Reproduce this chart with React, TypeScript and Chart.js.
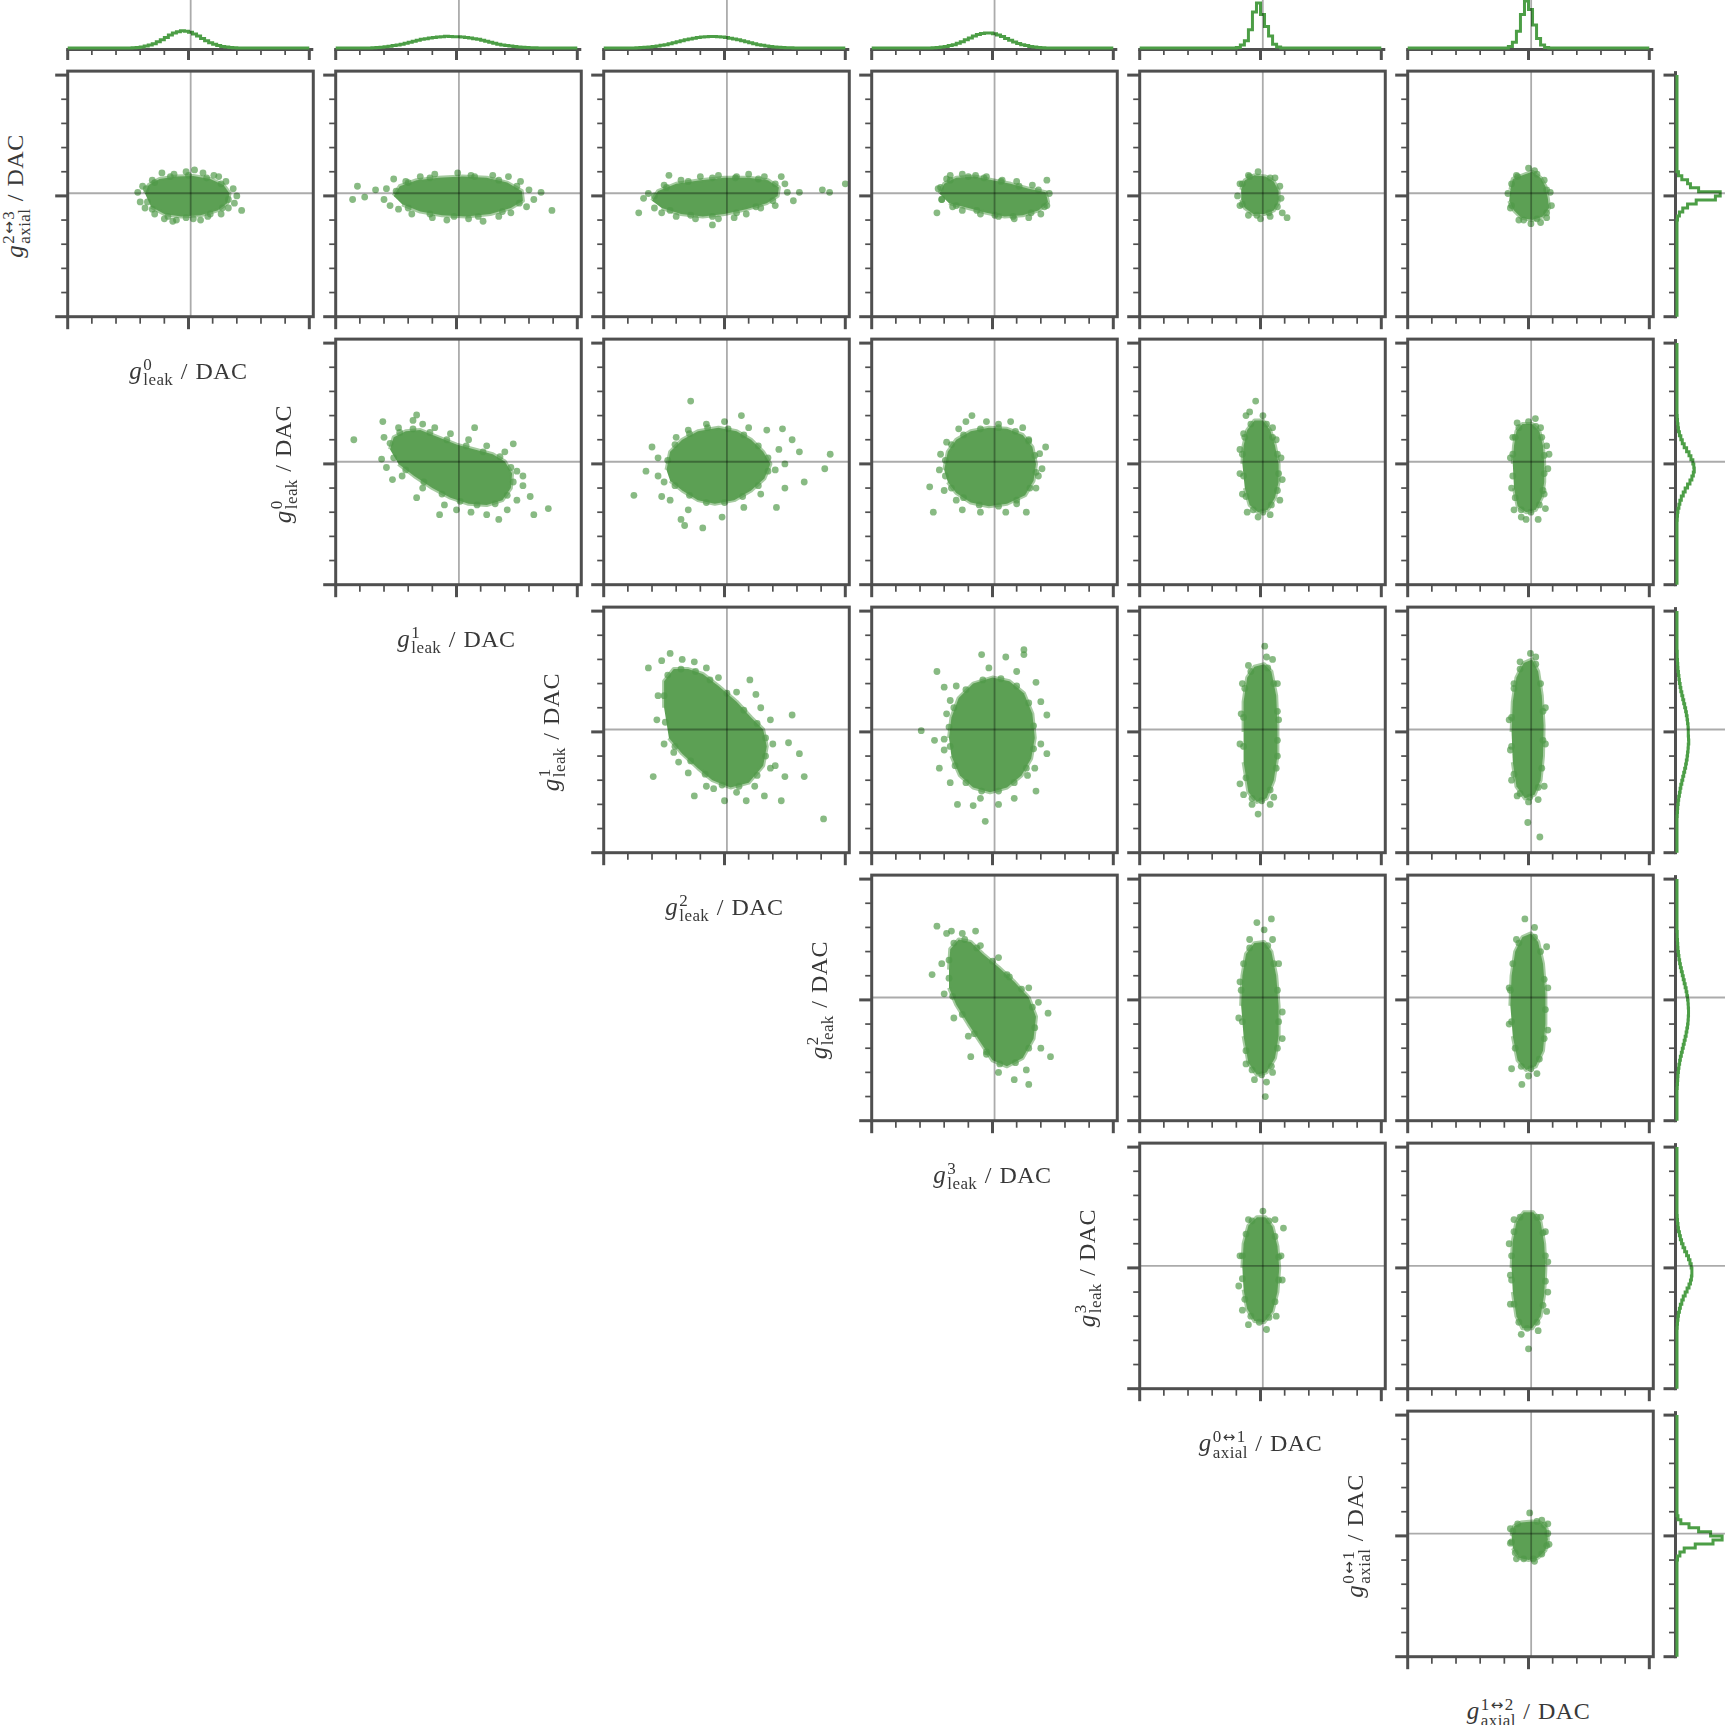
import React, { useEffect, useMemo, useRef } from 'react';
import { Chart, registerables } from 'chart.js';

Chart.register(...registerables);

// ---------------- values ----------------
// parameter order: g0 leak, g1 leak, g2 leak, g3 leak, g0↔1 axial, g1↔2 axial, g2↔3 axial
const PARAM_SUP = ['0', '1', '2', '3', '0↔1', '1↔2', '2↔3'];
const PARAM_SUB = ['leak', 'leak', 'leak', 'leak', 'axial', 'axial', 'axial'];
const TRUTH = [0.018, 0.02, 0.02, 0.017, 0.019, 0.022, 0.022];
const COLUMN_PARAM = [0, 1, 2, 3, 4, 5];
const ROW_PARAM = [6, 0, 1, 2, 3, 4];

const AXIS_MIN = -1;
const AXIS_MAX = 1.033;
const TICK_MAJOR = [-1, 0, 1];
const TICK_MINOR = [-0.8, -0.6, -0.4, -0.2, 0.2, 0.4, 0.6, 0.8];
const HIST_MIN = -1;
const HIST_MAX = 1;

// marginal histograms (60 bins from -1 to 1), heights in % of the strip
const HIST_G0LEAK = [
  0, 0, 0, 0, 0, 0, 0, 0, 0, 0,
  0, 0, 0, 0, 0, 0, 0.5, 1, 2, 4,
  6, 9, 13, 17, 22, 27, 31, 34, 36, 35,
  33, 29, 25, 20, 15, 11, 8, 5, 3, 2,
  1, 0.5, 0, 0, 0, 0, 0, 0, 0, 0,
  0, 0, 0, 0, 0, 0, 0, 0, 0, 0,
];
const HIST_G1LEAK = [
  0, 0, 0, 0, 0, 0, 0, 0, 0, 0.5,
  1, 1.5, 2.5, 3.5, 5, 6.5, 8, 10, 12, 14,
  16, 18, 19.5, 21, 22, 23, 23.5, 24.5, 24, 23.5,
  23.5, 23, 22, 21, 19.5, 18, 16, 14, 12, 10,
  8, 6.5, 5, 4, 3, 2, 1.5, 1, 0.5, 0.5,
  0, 0, 0, 0, 0, 0, 0, 0, 0, 0,
];
const HIST_G2LEAK = [
  0, 0, 0, 0, 0, 0, 0, 0, 0.5, 1,
  1.5, 2, 3, 4, 5.5, 7, 9, 11, 13, 15,
  17, 19, 20.5, 22, 23, 23.5, 24, 24, 23.5, 23,
  22, 20.5, 19, 17, 15, 13, 11, 9, 7, 5.5,
  4, 3, 2, 1.5, 1, 0.5, 0.5, 0, 0, 0,
  0, 0, 0, 0, 0, 0, 0, 0, 0, 0,
];
const HIST_G3LEAK = [
  0, 0, 0, 0, 0, 0, 0, 0, 0, 0,
  0, 0, 0, 0, 0, 0.5, 1, 2, 3, 5,
  7, 10, 13, 17, 21, 25, 28, 30, 31, 31,
  29.5, 27, 24, 20, 16, 12.5, 9.5, 7, 5, 3,
  2, 1, 0.5, 0, 0, 0, 0, 0, 0, 0,
  0, 0, 0, 0, 0, 0, 0, 0, 0, 0,
];
const HIST_G01AXIAL = [
  0, 0, 0, 0, 0, 0, 0, 0, 0, 0,
  0, 0, 0, 0, 0, 0, 0, 0, 0, 0,
  0, 0, 0, 0, 1, 6, 15, 38, 75, 94,
  70, 45, 25, 8, 2, 0, 0, 0, 0, 0,
  0, 0, 0, 0, 0, 0, 0, 0, 0, 0,
  0, 0, 0, 0, 0, 0, 0, 0, 0, 0,
];
const HIST_G12AXIAL = [
  0, 0, 0, 0, 0, 0, 0, 0, 0, 0,
  0, 0, 0, 0, 0, 0, 0, 0, 0, 0,
  0, 0, 0, 0, 0, 3, 12, 35, 70, 98,
  80, 48, 20, 6, 1, 0, 0, 0, 0, 0,
  0, 0, 0, 0, 0, 0, 0, 0, 0, 0,
  0, 0, 0, 0, 0, 0, 0, 0, 0, 0,
];
const HIST_G23AXIAL = [
  0, 0, 0, 0, 0, 0, 0, 0, 0, 0,
  0, 0, 0, 0, 0, 0, 0, 0, 0, 0,
  0, 0, 0, 0, 1, 5, 12, 22, 40, 80,
  90, 45, 28, 22, 10, 3, 0, 0, 0, 0,
  0, 0, 0, 0, 0, 0, 0, 0, 0, 0,
  0, 0, 0, 0, 0, 0, 0, 0, 0, 0,
];
const HISTS = [HIST_G0LEAK, HIST_G1LEAK, HIST_G2LEAK, HIST_G3LEAK, HIST_G01AXIAL, HIST_G12AXIAL, HIST_G23AXIAL];

// dense sample cores (outline) and sparse samples, [x, y] in DAC units relative to the axes
const CORE_R0C0 = [[-0.36,0.02],[-0.33,0.09],[-0.24,0.14],[-0.1,0.16],[0.04,0.165],[0.18,0.14],[0.29,0.09],[0.34,0.02],[0.32,-0.06],[0.24,-0.12],[0.1,-0.16],[-0.06,-0.17],[-0.2,-0.15],[-0.31,-0.09]];
const PTS_R0C0 = [[-0.42,0.03],[-0.4,-0.05],[-0.38,0.08],[-0.3,0.13],[-0.22,0.19],[-0.12,0.18],[-0.02,0.2],[0.05,0.215],[0.12,0.19],[0.21,0.17],[0.25,0.16],[0.31,0.12],[0.37,0.06],[0.4,0.0],[0.38,-0.06],[0.44,-0.12],[0.33,-0.1],[0.27,-0.15],[0.16,-0.17],[0.04,-0.19],[-0.1,-0.2],[-0.2,-0.19],[-0.28,-0.15],[-0.36,-0.1],[-0.13,-0.21],[0.1,-0.2],
  [-0.34,-0.05],[-0.35,0.06],[-0.28,0.11],[-0.15,0.16],[0.0,0.17],[0.15,0.15],[0.27,0.1],[0.33,-0.03],[0.28,-0.1],[0.18,-0.15],[-0.02,-0.18],[-0.17,-0.17],[-0.3,-0.11]];

const CORE_R0C1 = [[-0.52,0.0],[-0.47,0.08],[-0.33,0.13],[-0.15,0.15],[0.05,0.16],[0.25,0.15],[0.42,0.11],[0.54,0.04],[0.55,-0.04],[0.45,-0.1],[0.28,-0.15],[0.08,-0.17],[-0.12,-0.16],[-0.3,-0.13],[-0.45,-0.07]];
const PTS_R0C1 = [[-0.86,-0.03],[-0.82,0.08],[-0.76,-0.01],[-0.67,0.05],[-0.6,-0.03],[-0.58,0.06],[-0.55,-0.08],[-0.52,0.14],[-0.42,0.12],[-0.3,0.16],[-0.18,0.18],[0.01,0.19],[0.12,0.17],[0.3,0.17],[0.43,0.16],[0.53,0.12],[0.6,0.05],[0.64,-0.03],[0.7,0.03],[0.79,-0.12],[0.58,-0.09],[0.45,-0.14],[0.35,-0.17],[0.22,-0.21],[0.1,-0.19],[-0.08,-0.2],[-0.2,-0.18],[-0.37,-0.15],[-0.48,-0.11],
  [-0.5,0.04],[-0.4,0.11],[-0.22,0.15],[0.15,0.16],[0.35,0.13],[0.5,0.08],[0.52,-0.06],[0.38,-0.13],[0.18,-0.17],[-0.02,-0.17],[-0.22,-0.15],[-0.4,-0.1]];

const CORE_R0C2 = [[-0.6,-0.04],[-0.55,0.04],[-0.4,0.1],[-0.2,0.13],[0.0,0.15],[0.2,0.15],[0.36,0.13],[0.45,0.07],[0.44,0.0],[0.35,-0.06],[0.18,-0.11],[0.0,-0.15],[-0.18,-0.17],[-0.36,-0.15],[-0.52,-0.1]];
const PTS_R0C2 = [[-0.71,-0.14],[-0.67,-0.02],[-0.63,0.02],[-0.58,-0.1],[-0.46,0.17],[-0.5,0.09],[-0.36,0.13],[-0.2,0.16],[-0.05,0.17],[0.09,0.15],[0.2,0.18],[0.33,0.16],[0.47,0.16],[0.5,0.1],[0.52,0.03],[0.57,-0.04],[0.62,0.03],[0.81,0.05],[0.87,0.03],[1.0,0.1],[0.42,-0.08],[0.3,-0.1],[0.18,-0.15],[0.08,-0.18],[-0.1,-0.24],[-0.05,-0.19],[-0.24,-0.19],[-0.4,-0.17],[-0.52,-0.14],
  [-0.58,0.0],[-0.48,0.07],[-0.3,0.12],[-0.1,0.15],[0.1,0.16],[0.28,0.14],[0.42,0.1],[0.4,-0.04],[0.26,-0.09],[0.1,-0.14],[-0.1,-0.17],[-0.28,-0.16],[-0.45,-0.12]];

const CORE_R0C3 = [[-0.44,0.02],[-0.4,0.1],[-0.3,0.15],[-0.15,0.16],[0.0,0.13],[0.15,0.1],[0.3,0.06],[0.44,0.03],[0.46,-0.05],[0.38,-0.12],[0.25,-0.16],[0.1,-0.17],[-0.05,-0.14],[-0.2,-0.1],[-0.36,-0.06]];
const PTS_R0C3 = [[-0.46,-0.14],[-0.45,0.06],[-0.42,-0.03],[-0.38,0.14],[-0.35,0.17],[-0.25,0.18],[-0.14,0.17],[-0.05,0.16],[0.08,0.13],[0.2,0.12],[0.33,0.09],[0.45,0.13],[0.47,0.02],[0.45,-0.08],[0.4,-0.15],[0.3,-0.18],[0.18,-0.19],[0.05,-0.17],[-0.1,-0.15],[-0.25,-0.12],[-0.33,-0.09],
  [-0.43,0.07],[-0.35,0.13],[-0.2,0.16],[-0.07,0.15],[0.07,0.12],[0.22,0.08],[0.38,0.05],[0.43,-0.09],[0.32,-0.14],[0.17,-0.17],[0.02,-0.16],[-0.13,-0.12],[-0.3,-0.08],[-0.42,-0.03]];

const CORE_R0C4 = [[-0.16,0.05],[-0.13,0.13],[-0.05,0.17],[0.04,0.16],[0.11,0.12],[0.15,0.04],[0.15,-0.05],[0.11,-0.12],[0.03,-0.15],[-0.06,-0.15],[-0.13,-0.1],[-0.16,-0.03]];
const PTS_R0C4 = [[0.22,-0.18],[0.18,-0.14],[0.16,0.08],[0.12,0.15],[-0.02,0.2],[-0.1,0.17],[-0.17,0.1],[-0.19,0.0],[-0.17,-0.08],[-0.1,-0.16],[0.0,-0.19],[0.08,-0.17],[0.17,-0.02],
  [-0.15,0.1],[-0.09,0.16],[0.08,0.15],[0.14,-0.09],[0.07,-0.14],[-0.03,-0.16],[-0.15,-0.07]];

const CORE_R0C5 = [[-0.15,0.05],[-0.13,0.14],[-0.05,0.17],[0.03,0.2],[0.1,0.15],[0.14,0.08],[0.16,-0.02],[0.17,-0.1],[0.12,-0.17],[0.03,-0.2],[-0.06,-0.18],[-0.12,-0.12],[-0.16,-0.04]];
const PTS_R0C5 = [[0.0,0.23],[0.05,0.21],[-0.1,0.17],[-0.17,0.02],[-0.15,-0.1],[-0.08,-0.2],[0.02,-0.23],[0.1,-0.22],[0.15,-0.18],[0.19,-0.08],[0.18,0.03],[0.13,0.13],
  [-0.14,0.1],[-0.09,0.16],[0.07,0.18],[0.15,0.05],[0.15,-0.14],[0.07,-0.19],[-0.04,-0.2],[-0.14,-0.08]];

const CORE_R1C1 = [[-0.55,0.12],[-0.52,0.22],[-0.42,0.27],[-0.3,0.28],[-0.15,0.22],[0.0,0.16],[0.15,0.12],[0.3,0.08],[0.4,0.02],[0.46,-0.08],[0.45,-0.2],[0.38,-0.3],[0.25,-0.34],[0.1,-0.33],[-0.05,-0.28],[-0.2,-0.2],[-0.35,-0.1],[-0.48,0.0]];
const PTS_R1C1 = [[-0.85,0.2],[-0.61,0.35],[-0.33,0.405],[-0.36,0.36],[-0.28,0.33],[-0.48,0.3],[-0.6,0.22],[-0.62,0.04],[-0.58,-0.03],[-0.53,-0.13],[-0.45,-0.1],[-0.33,-0.28],[-0.28,-0.2],[-0.14,-0.42],[-0.1,-0.34],[0.0,-0.38],[0.12,-0.4],[0.25,-0.42],[0.35,-0.46],[0.42,-0.38],[0.5,-0.3],[0.61,-0.27],[0.64,-0.42],[0.76,-0.37],[0.55,-0.18],[0.5,-0.06],[0.47,0.166],[0.4,0.1],[0.15,0.3],[0.1,0.2],[-0.05,0.25],[-0.18,0.3],[0.25,0.15],[0.55,-0.1],
  [-0.55,0.17],[-0.47,0.26],[-0.36,0.29],[-0.22,0.26],[-0.08,0.2],[0.08,0.15],[0.22,0.1],[0.36,0.06],[0.45,-0.03],[0.47,-0.15],[0.42,-0.26],[0.32,-0.33],[0.17,-0.34],[0.03,-0.31],[-0.12,-0.25],[-0.27,-0.15],[-0.42,-0.05],[-0.52,0.05]];

const CORE_R1C2 = [[-0.48,-0.05],[-0.45,0.1],[-0.35,0.2],[-0.22,0.27],[-0.05,0.3],[0.1,0.27],[0.22,0.2],[0.32,0.1],[0.38,0.0],[0.33,-0.12],[0.22,-0.22],[0.08,-0.3],[-0.08,-0.33],[-0.22,-0.3],[-0.35,-0.22],[-0.45,-0.14]];
const PTS_R1C2 = [[-0.28,0.52],[0.14,0.4],[0.0,0.35],[-0.75,-0.26],[-0.65,-0.06],[-0.6,0.14],[-0.55,0.05],[-0.52,-0.27],[-0.5,-0.15],[-0.4,0.22],[-0.3,0.28],[-0.15,0.33],[0.2,0.3],[0.35,0.28],[0.48,0.29],[0.56,0.2],[0.62,0.1],[0.45,0.12],[0.5,0.0],[0.42,-0.05],[0.875,0.08],[0.83,-0.04],[0.66,-0.15],[0.5,-0.2],[0.43,-0.36],[0.3,-0.25],[0.16,-0.36],[-0.02,-0.44],[-0.18,-0.53],[-0.33,-0.51],[-0.36,-0.46],[-0.3,-0.38],[-0.45,-0.3],[-0.55,-0.1],
  [-0.47,0.03],[-0.41,0.16],[-0.29,0.25],[-0.14,0.3],[0.03,0.29],[0.16,0.24],[0.28,0.15],[0.36,0.05],[0.36,-0.06],[0.28,-0.18],[0.15,-0.27],[0.0,-0.32],[-0.15,-0.32],[-0.29,-0.26],[-0.41,-0.18]];

const CORE_R1C3 = [[-0.4,-0.05],[-0.37,0.1],[-0.3,0.2],[-0.18,0.27],[-0.03,0.3],[0.12,0.29],[0.25,0.24],[0.33,0.14],[0.36,0.0],[0.34,-0.14],[0.27,-0.26],[0.12,-0.33],[-0.03,-0.35],[-0.18,-0.32],[-0.3,-0.24],[-0.37,-0.15]];
const PTS_R1C3 = [[-0.17,0.4],[-0.22,0.35],[-0.28,0.29],[0.15,0.35],[-0.05,0.35],[0.05,0.33],[0.25,0.3],[0.3,0.2],[0.44,0.14],[0.39,0.085],[0.41,-0.04],[0.38,-0.1],[0.36,-0.2],[0.28,-0.4],[0.2,-0.33],[0.11,-0.4],[-0.1,-0.4],[-0.25,-0.38],[-0.49,-0.4],[-0.3,-0.3],[-0.4,-0.22],[-0.52,-0.19],[-0.44,-0.05],[-0.43,0.08],[-0.38,0.18],
  [-0.39,0.03],[-0.34,0.16],[-0.24,0.24],[-0.1,0.29],[0.05,0.3],[0.19,0.27],[0.3,0.19],[0.35,0.07],[0.36,-0.07],[0.31,-0.2],[0.2,-0.3],[0.05,-0.35],[-0.11,-0.34],[-0.24,-0.28],[-0.34,-0.2],[-0.39,-0.1]];

const CORE_R1C4 = [[-0.15,0.0],[-0.14,0.15],[-0.11,0.28],[-0.05,0.36],[0.02,0.36],[0.08,0.28],[0.12,0.15],[0.15,0.0],[0.15,-0.15],[0.12,-0.28],[0.06,-0.38],[-0.02,-0.4],[-0.09,-0.34],[-0.13,-0.2]];
const PTS_R1C4 = [[-0.04,0.52],[-0.12,0.4],[-0.09,0.43],[0.02,0.4],[0.1,0.3],[0.13,0.2],[0.17,0.05],[0.18,-0.13],[0.16,-0.3],[0.08,-0.42],[-0.02,-0.44],[-0.11,-0.4],[-0.15,-0.25],[-0.17,-0.08],[-0.17,0.12],[-0.14,0.25],
  [-0.15,0.08],[-0.13,0.22],[-0.08,0.33],[0.05,0.33],[0.1,0.22],[0.14,0.08],[0.15,-0.08],[0.14,-0.22],[0.09,-0.34],[0.02,-0.4],[-0.06,-0.38],[-0.12,-0.27],[-0.14,-0.1]];

const CORE_R1C5 = [[-0.13,0.0],[-0.12,0.15],[-0.1,0.27],[-0.05,0.33],[0.03,0.33],[0.09,0.27],[0.12,0.15],[0.13,0.0],[0.13,-0.15],[0.11,-0.28],[0.06,-0.38],[-0.02,-0.4],[-0.09,-0.35],[-0.12,-0.2]];
const PTS_R1C5 = [[-0.094,0.34],[0.057,0.375],[0.0,0.35],[0.1,0.3],[0.17,0.08],[0.16,-0.04],[0.15,0.15],[0.14,-0.37],[0.13,-0.25],[0.08,-0.46],[-0.06,-0.44],[-0.02,-0.46],[-0.12,-0.38],[-0.14,-0.2],[-0.15,0.05],[-0.13,0.22],
  [-0.13,0.08],[-0.11,0.22],[-0.08,0.3],[0.06,0.31],[0.11,0.22],[0.13,0.07],[0.13,-0.08],[0.12,-0.22],[0.09,-0.34],[0.02,-0.4],[-0.06,-0.38],[-0.11,-0.28],[-0.13,-0.1]];

const CORE_R2C2 = [[-0.5,0.2],[-0.5,0.42],[-0.42,0.52],[-0.3,0.52],[-0.18,0.48],[-0.05,0.38],[0.1,0.25],[0.22,0.12],[0.32,0.02],[0.35,-0.12],[0.32,-0.28],[0.2,-0.42],[0.05,-0.46],[-0.1,-0.4],[-0.22,-0.3],[-0.35,-0.18],[-0.46,-0.05]];
const PTS_R2C2 = [[-0.63,0.53],[-0.45,0.65],[-0.52,0.59],[-0.35,0.6],[-0.15,0.53],[0.21,0.43],[0.26,0.31],[0.56,0.14],[-0.56,0.1],[-0.59,-0.37],[0.82,-0.72],[0.66,-0.37],[0.62,-0.18],[0.53,-0.09],[0.5,-0.37],[0.47,-0.57],[0.33,-0.53],[0.18,-0.57],[0.0,-0.57],[-0.25,-0.53],[-0.09,-0.47],[-0.3,-0.34],[-0.42,-0.17],[0.38,0.1],[0.42,-0.28],[-0.55,0.3],[-0.5,-0.1],[-0.38,-0.25],[-0.15,-0.45],[0.1,-0.5],[0.25,-0.45],[0.38,-0.3],[0.4,-0.1],[0.3,0.2],[0.1,0.33],[-0.05,0.45],[-0.25,0.58],
  [-0.5,0.3],[-0.47,0.47],[-0.36,0.52],[-0.24,0.5],[-0.12,0.43],[0.02,0.32],[0.16,0.18],[0.27,0.07],[0.34,-0.05],[0.34,-0.2],[0.27,-0.36],[0.12,-0.45],[-0.02,-0.44],[-0.16,-0.35],[-0.28,-0.24],[-0.41,-0.12],[-0.49,0.08]];

const CORE_R2C3 = [[-0.36,-0.05],[-0.34,0.12],[-0.28,0.28],[-0.16,0.4],[0.0,0.45],[0.14,0.42],[0.26,0.32],[0.33,0.15],[0.35,-0.05],[0.32,-0.22],[0.24,-0.36],[0.12,-0.46],[-0.02,-0.5],[-0.16,-0.46],[-0.27,-0.36],[-0.34,-0.2]];
const PTS_R2C3 = [[0.26,0.68],[0.26,0.64],[-0.46,0.5],[-0.4,0.37],[-0.35,0.26],[-0.59,0.01],[-0.48,-0.07],[-0.4,-0.06],[-0.44,-0.3],[-0.29,-0.6],[-0.16,-0.61],[-0.06,-0.74],[0.05,-0.6],[0.36,-0.49],[0.45,-0.18],[0.45,0.14],[0.36,0.41],[0.11,0.62],[-0.09,0.64],[-0.03,0.53],[0.29,-0.36],[-0.38,0.15],[-0.3,0.38],[0.2,0.5],[0.4,0.25],[0.4,-0.1],[0.35,-0.3],[0.18,-0.55],[-0.1,-0.55],[-0.35,-0.42],[-0.4,-0.15],
  [-0.36,0.04],[-0.32,0.2],[-0.22,0.35],[-0.08,0.43],[0.07,0.44],[0.2,0.38],[0.3,0.24],[0.34,0.05],[0.34,-0.14],[0.28,-0.3],[0.18,-0.42],[0.05,-0.49],[-0.09,-0.49],[-0.22,-0.42],[-0.31,-0.28],[-0.35,-0.12]];

const CORE_R2C4 = [[-0.14,0.0],[-0.14,0.25],[-0.11,0.45],[-0.05,0.54],[0.03,0.56],[0.09,0.5],[0.13,0.3],[0.14,0.05],[0.14,-0.2],[0.11,-0.4],[0.05,-0.55],[-0.03,-0.58],[-0.1,-0.5],[-0.14,-0.25]];
const PTS_R2C4 = [[0.035,0.71],[0.1,0.6],[0.05,0.62],[-0.1,0.55],[-0.15,0.4],[-0.16,0.15],[-0.17,-0.1],[-0.17,-0.43],[-0.14,-0.52],[-0.07,-0.6],[-0.02,-0.68],[0.11,-0.54],[0.14,-0.2],[0.15,0.1],[0.14,0.4],[0.08,-0.6],
  [-0.14,0.12],[-0.13,0.36],[-0.08,0.5],[0.06,0.53],[0.11,0.4],[0.14,0.17],[0.14,-0.07],[0.13,-0.3],[0.08,-0.48],[0.01,-0.57],[-0.07,-0.55],[-0.12,-0.38],[-0.14,-0.12]];

const CORE_R2C5 = [[-0.14,0.0],[-0.13,0.25],[-0.1,0.45],[-0.04,0.57],[0.03,0.6],[0.08,0.5],[0.11,0.3],[0.125,0.05],[0.12,-0.2],[0.1,-0.4],[0.05,-0.52],[-0.03,-0.55],[-0.1,-0.45],[-0.13,-0.25]];
const PTS_R2C5 = [[0.016,0.65],[0.06,0.62],[-0.07,0.58],[-0.12,0.4],[-0.16,0.1],[-0.15,-0.15],[-0.14,-0.4],[-0.094,-0.53],[0.0,-0.58],[0.08,-0.56],[0.13,-0.45],[0.14,-0.1],[0.14,0.2],[-0.006,-0.75],[0.094,-0.87],
  [-0.14,0.12],[-0.12,0.36],[-0.07,0.52],[0.06,0.56],[0.1,0.4],[0.12,0.17],[0.12,-0.07],[0.11,-0.3],[0.08,-0.46],[0.01,-0.54],[-0.07,-0.51],[-0.12,-0.35],[-0.14,-0.12]];

const CORE_R3C3 = [[-0.36,0.25],[-0.35,0.42],[-0.28,0.5],[-0.18,0.48],[-0.08,0.38],[0.05,0.27],[0.18,0.15],[0.3,0.02],[0.36,-0.14],[0.34,-0.32],[0.25,-0.48],[0.12,-0.55],[0.0,-0.5],[-0.1,-0.35],[-0.2,-0.2],[-0.3,-0.04],[-0.36,0.1]];
const PTS_R3C3 = [[-0.46,0.61],[-0.34,0.57],[-0.38,0.55],[-0.14,0.57],[-0.5,0.21],[-0.42,0.3],[-0.4,0.05],[-0.32,-0.15],[-0.2,-0.3],[-0.18,-0.47],[-0.05,-0.45],[0.05,-0.6],[0.18,-0.66],[0.3,-0.7],[0.28,-0.58],[0.4,-0.4],[0.48,-0.47],[0.46,-0.11],[0.38,-0.02],[0.3,0.1],[0.14,0.19],[0.05,0.35],[-0.1,0.45],[-0.25,0.55],
  [-0.36,0.33],[-0.32,0.47],[-0.23,0.5],[-0.13,0.43],[0.0,0.32],[0.12,0.21],[0.24,0.09],[0.33,-0.06],[0.35,-0.23],[0.3,-0.4],[0.19,-0.52],[0.06,-0.53],[-0.05,-0.43],[-0.15,-0.28],[-0.25,-0.12],[-0.33,0.03],[-0.36,0.18]];

const CORE_R3C4 = [[-0.16,-0.05],[-0.15,0.2],[-0.12,0.38],[-0.05,0.47],[0.03,0.48],[0.09,0.4],[0.13,0.2],[0.15,-0.05],[0.15,-0.3],[0.12,-0.48],[0.05,-0.6],[-0.03,-0.62],[-0.1,-0.52],[-0.14,-0.3]];
const PTS_R3C4 = [[0.09,0.67],[-0.03,0.64],[0.03,0.58],[-0.09,0.5],[0.1,0.5],[0.15,0.3],[-0.17,0.15],[-0.18,-0.15],[0.18,-0.32],[0.18,-0.1],[-0.12,-0.53],[0.05,-0.68],[0.04,-0.8],[0.1,-0.6],[-0.05,-0.66],
  [-0.16,0.08],[-0.14,0.3],[-0.09,0.43],[0.06,0.45],[0.11,0.3],[0.14,0.08],[0.15,-0.18],[0.14,-0.4],[0.09,-0.55],[0.01,-0.62],[-0.07,-0.58],[-0.12,-0.42],[-0.15,-0.18]];

const CORE_R3C5 = [[-0.15,-0.05],[-0.14,0.2],[-0.11,0.4],[-0.05,0.52],[0.02,0.55],[0.08,0.48],[0.12,0.3],[0.14,0.05],[0.14,-0.2],[0.12,-0.42],[0.06,-0.55],[-0.02,-0.58],[-0.09,-0.5],[-0.13,-0.3]];
const PTS_R3C5 = [[-0.03,0.67],[0.15,0.44],[0.05,0.6],[-0.1,0.5],[-0.16,0.1],[-0.16,-0.2],[0.16,0.1],[0.16,-0.25],[-0.14,-0.57],[0.07,-0.61],[-0.055,-0.7],[0.0,-0.63],
  [-0.15,0.08],[-0.13,0.3],[-0.08,0.47],[0.05,0.52],[0.1,0.4],[0.13,0.17],[0.14,-0.08],[0.13,-0.32],[0.09,-0.49],[0.02,-0.57],[-0.06,-0.55],[-0.11,-0.4],[-0.14,-0.18]];

const CORE_R4C4 = [[-0.15,0.0],[-0.14,0.2],[-0.1,0.35],[-0.03,0.42],[0.04,0.42],[0.1,0.34],[0.14,0.18],[0.155,0.0],[0.14,-0.2],[0.1,-0.36],[0.03,-0.45],[-0.05,-0.44],[-0.11,-0.34],[-0.14,-0.18]];
const PTS_R4C4 = [[0.02,0.47],[0.19,0.33],[0.12,0.4],[-0.1,0.4],[-0.17,0.1],[-0.18,-0.15],[0.17,0.1],[0.18,-0.1],[0.13,-0.4],[0.05,-0.51],[-0.1,-0.47],[-0.15,-0.35],
  [-0.15,0.1],[-0.12,0.28],[-0.07,0.39],[0.07,0.39],[0.12,0.26],[0.15,0.09],[0.15,-0.1],[0.12,-0.28],[0.07,-0.41],[-0.01,-0.45],[-0.08,-0.4],[-0.13,-0.26],[-0.15,-0.09]];

const CORE_R4C5 = [[-0.14,0.0],[-0.13,0.22],[-0.1,0.38],[-0.04,0.46],[0.04,0.46],[0.1,0.38],[0.13,0.2],[0.14,0.0],[0.13,-0.22],[0.1,-0.4],[0.03,-0.5],[-0.05,-0.5],[-0.1,-0.4],[-0.13,-0.2]];
const PTS_R4C5 = [[0.0,-0.67],[-0.15,-0.06],[0.15,-0.36],[0.1,0.42],[0.14,0.3],[-0.12,0.4],[-0.16,0.2],[0.16,0.05],[0.16,-0.2],[-0.15,-0.3],[-0.06,-0.55],[0.08,-0.52],
  [-0.14,0.1],[-0.12,0.3],[-0.07,0.42],[0.07,0.42],[0.12,0.29],[0.14,0.1],[0.14,-0.11],[0.12,-0.31],[0.07,-0.45],[-0.01,-0.5],[-0.08,-0.45],[-0.12,-0.3],[-0.14,-0.1]];

const CORE_R5C5 = [[-0.14,0.0],[-0.12,0.08],[-0.06,0.11],[0.03,0.12],[0.1,0.11],[0.15,0.06],[0.16,-0.03],[0.14,-0.12],[0.08,-0.18],[0.0,-0.2],[-0.08,-0.18],[-0.13,-0.1]];
const PTS_R5C5 = [[0.01,0.19],[0.11,0.13],[-0.15,0.06],[0.16,0.1],[0.17,-0.07],[-0.15,-0.06],[-0.1,-0.19],[0.05,-0.21],
  [-0.13,0.04],[-0.09,0.1],[0.07,0.12],[0.13,0.09],[0.16,0.02],[0.15,-0.08],[0.11,-0.15],[0.04,-0.19],[-0.04,-0.19],[-0.11,-0.14],[-0.14,-0.05]];

const PANELS = [
  { r: 0, c: 0, core: CORE_R0C0, pts: PTS_R0C0 },
  { r: 0, c: 1, core: CORE_R0C1, pts: PTS_R0C1 },
  { r: 0, c: 2, core: CORE_R0C2, pts: PTS_R0C2 },
  { r: 0, c: 3, core: CORE_R0C3, pts: PTS_R0C3 },
  { r: 0, c: 4, core: CORE_R0C4, pts: PTS_R0C4 },
  { r: 0, c: 5, core: CORE_R0C5, pts: PTS_R0C5 },
  { r: 1, c: 1, core: CORE_R1C1, pts: PTS_R1C1 },
  { r: 1, c: 2, core: CORE_R1C2, pts: PTS_R1C2 },
  { r: 1, c: 3, core: CORE_R1C3, pts: PTS_R1C3 },
  { r: 1, c: 4, core: CORE_R1C4, pts: PTS_R1C4 },
  { r: 1, c: 5, core: CORE_R1C5, pts: PTS_R1C5 },
  { r: 2, c: 2, core: CORE_R2C2, pts: PTS_R2C2 },
  { r: 2, c: 3, core: CORE_R2C3, pts: PTS_R2C3 },
  { r: 2, c: 4, core: CORE_R2C4, pts: PTS_R2C4 },
  { r: 2, c: 5, core: CORE_R2C5, pts: PTS_R2C5 },
  { r: 3, c: 3, core: CORE_R3C3, pts: PTS_R3C3 },
  { r: 3, c: 4, core: CORE_R3C4, pts: PTS_R3C4 },
  { r: 3, c: 5, core: CORE_R3C5, pts: PTS_R3C5 },
  { r: 4, c: 4, core: CORE_R4C4, pts: PTS_R4C4 },
  { r: 4, c: 5, core: CORE_R4C5, pts: PTS_R4C5 },
  { r: 5, c: 5, core: CORE_R5C5, pts: PTS_R5C5 },
];

// ---------------- style & layout ----------------
const CORE_COLOR = 'rgb(92,160,84)';
const CORE_EDGE = 'rgba(92,160,84,0.55)';
const POINT_COLOR = 'rgba(80,154,72,0.68)';
const HIST_COLOR = 'rgb(76,158,70)';
const CROSS_COLOR = 'rgba(0,0,0,0.33)';
const AXIS_COLOR = '#4f4f4f';
const TEXT_COLOR = '#383838';

const COL0_X = 67.7;       // pixel of x = -1 in column 0
const ROW0_BOTTOM = 316.7; // pixel of y = -1 in row 0
const STEP = 268;
const UNIT = 120.8;
const SPAN = UNIT * (AXIS_MAX - AXIS_MIN);
const TOP_HIST_BASE = 48;
const RIGHT_HIST_LEFT = 1677;
const PAGE = 1725;

function seg(ctx: CanvasRenderingContext2D, x1: number, y1: number, x2: number, y2: number, w: number) {
  ctx.lineWidth = w;
  ctx.beginPath();
  ctx.moveTo(x1, y1);
  ctx.lineTo(x2, y2);
  ctx.stroke();
}

const cornerAxes = {
  id: 'cornerAxes',
  beforeDatasetsDraw(chart: any, _args: any, opts: any) {
    const { ctx, chartArea: a } = chart;
    ctx.save();
    ctx.strokeStyle = AXIS_COLOR;
    ctx.lineCap = 'butt';
    if (opts.kind === 'top') {
      const xs = chart.scales.x;
      const yb = a.bottom + 1.5;
      seg(ctx, a.left - 1.5, yb, a.right, yb, 3);
      TICK_MAJOR.forEach((v) => { const p = xs.getPixelForValue(v); seg(ctx, p, yb, p, yb + 10.5, 3); });
      TICK_MINOR.forEach((v) => { const p = xs.getPixelForValue(v); seg(ctx, p, yb, p, yb + 5.5, 1.7); });
    } else if (opts.kind === 'right') {
      const ys = chart.scales.y;
      const xb = a.left - 1.5;
      seg(ctx, xb, a.top, xb, a.bottom + 1.5, 3);
      TICK_MAJOR.forEach((v) => { const p = ys.getPixelForValue(v); seg(ctx, xb, p, xb - 12, p, 3); });
      TICK_MINOR.forEach((v) => { const p = ys.getPixelForValue(v); seg(ctx, xb, p, xb - 6.5, p, 1.7); });
    }
    ctx.restore();
  },
  afterDatasetsDraw(chart: any, _args: any, opts: any) {
    if (opts.kind !== 'panel') return;
    const { ctx, chartArea: a } = chart;
    const xs = chart.scales.x;
    const ys = chart.scales.y;
    ctx.save();
    ctx.strokeStyle = AXIS_COLOR;
    ctx.lineCap = 'butt';
    ctx.lineJoin = 'miter';
    ctx.lineWidth = 3;
    ctx.strokeRect(a.left, a.top, a.right - a.left, a.bottom - a.top);
    TICK_MAJOR.forEach((v) => {
      const py = ys.getPixelForValue(v);
      seg(ctx, a.left, py, a.left - 12.5, py, 3);
      const px = xs.getPixelForValue(v);
      seg(ctx, px, a.bottom, px, a.bottom + 12.5, 3);
    });
    TICK_MINOR.forEach((v) => {
      const py = ys.getPixelForValue(v);
      seg(ctx, a.left, py, a.left - 6.5, py, 1.7);
      const px = xs.getPixelForValue(v);
      seg(ctx, px, a.bottom, px, a.bottom + 7, 1.7);
    });
    ctx.restore();
  },
};

const toXY = (arr: number[][]) => arr.map(([x, y]) => ({ x, y }));
const binEdge = (i: number, n: number) => HIST_MIN + (i * (HIST_MAX - HIST_MIN)) / n;

function baseOptions(padding: any, kind: string, xr: [number, number], yr: [number, number]) {
  return {
    animation: false,
    responsive: false,
    events: [],
    layout: { padding, autoPadding: false },
    elements: { line: { tension: 0 } },
    scales: {
      x: { type: 'linear', min: xr[0], max: xr[1], display: false },
      y: { type: 'linear', min: yr[0], max: yr[1], display: false },
    },
    plugins: { legend: { display: false }, tooltip: { enabled: false }, cornerAxes: { kind } },
  };
}

type Spec = { key: string; left: number; top: number; width: number; height: number; make: () => any };

function horizontalBox(c: number) {
  const x0 = COL0_X + STEP * c;
  const x1 = x0 + SPAN;
  const left = Math.floor(x0 - 16);
  const width = 268;
  return { left, width, padL: x0 - left, padR: left + width - x1 };
}
function verticalBox(r: number) {
  const y0 = ROW0_BOTTOM + STEP * r;
  const y1 = y0 - SPAN;
  const top = Math.floor(y1 - 4);
  const height = 268;
  return { top, height, padT: y1 - top, padB: top + height - y0 };
}

function buildSpecs(): Spec[] {
  const specs: Spec[] = [];
  PANELS.forEach((p) => {
    const h = horizontalBox(p.c);
    const v = verticalBox(p.r);
    const tx = TRUTH[COLUMN_PARAM[p.c]];
    const ty = TRUTH[ROW_PARAM[p.r]];
    specs.push({
      key: `p${p.r}${p.c}`, left: h.left, top: v.top, width: h.width, height: v.height,
      make: () => ({
        type: 'line',
        data: {
          datasets: [
            { data: [{ x: tx, y: AXIS_MIN }, { x: tx, y: AXIS_MAX }], borderColor: CROSS_COLOR, borderWidth: 1.8, pointRadius: 0, fill: false, order: 0, clip: false },
            { data: [{ x: AXIS_MIN, y: ty }, { x: AXIS_MAX, y: ty }], borderColor: CROSS_COLOR, borderWidth: 1.8, pointRadius: 0, fill: false, order: 0, clip: false },
            { data: toXY(p.pts), showLine: false, pointRadius: 3.4, pointBackgroundColor: POINT_COLOR, pointBorderWidth: 0, pointBorderColor: 'transparent', order: 1, clip: false },
            { data: toXY(p.core), borderColor: CORE_EDGE, borderWidth: 4, borderJoinStyle: 'round', backgroundColor: CORE_COLOR, fill: 'shape', pointRadius: 0, order: 2, clip: false },
          ],
        },
        options: baseOptions({ left: h.padL, right: h.padR, top: v.padT, bottom: v.padB }, 'panel', [AXIS_MIN, AXIS_MAX], [AXIS_MIN, AXIS_MAX]),
        plugins: [cornerAxes],
      }),
    });
  });
  COLUMN_PARAM.forEach((param, c) => {
    const h = horizontalBox(c);
    const counts = HISTS[param];
    const t = TRUTH[param];
    specs.push({
      key: `t${c}`, left: h.left, top: 0, width: h.width, height: 64,
      make: () => {
        const pts = counts.map((n, i) => ({ x: binEdge(i, counts.length), y: n }));
        pts.push({ x: binEdge(counts.length, counts.length), y: counts[counts.length - 1] });
        return {
          type: 'line',
          data: {
            datasets: [
              { data: [{ x: t, y: 0 }, { x: t, y: 100 }], borderColor: CROSS_COLOR, borderWidth: 1.8, pointRadius: 0, fill: false, order: 0, clip: false },
              { data: pts, stepped: true, borderColor: HIST_COLOR, borderWidth: 3, pointRadius: 0, fill: false, order: 1, clip: false },
            ],
          },
          options: baseOptions({ left: h.padL, right: h.padR, top: 0, bottom: 64 - TOP_HIST_BASE }, 'top', [AXIS_MIN, AXIS_MAX], [0, 100]),
          plugins: [cornerAxes],
        };
      },
    });
  });
  ROW_PARAM.forEach((param, r) => {
    const v = verticalBox(r);
    const counts = HISTS[param];
    const t = TRUTH[param];
    const left = RIGHT_HIST_LEFT - 16;
    specs.push({
      key: `s${r}`, left, top: v.top, width: PAGE - left, height: v.height,
      make: () => {
        const pts = counts.map((n, i) => ({ x: n, y: binEdge(i, counts.length) }));
        pts.push({ x: counts[counts.length - 1], y: binEdge(counts.length, counts.length) });
        return {
          type: 'line',
          data: {
            datasets: [
              { data: [{ x: 0, y: t }, { x: 100, y: t }], borderColor: CROSS_COLOR, borderWidth: 1.8, pointRadius: 0, fill: false, order: 0, clip: false },
              { data: pts, stepped: 'after', borderColor: HIST_COLOR, borderWidth: 3, pointRadius: 0, fill: false, order: 1, clip: false },
            ],
          },
          options: baseOptions({ left: 16, right: 0, top: v.padT, bottom: v.padB }, 'right', [0, 100], [AXIS_MIN, AXIS_MAX]),
          plugins: [cornerAxes],
        };
      },
    });
  });
  return specs;
}

function SupText({ text }: { text: string }) {
  const parts = text.split('↔');
  if (parts.length === 1) return <span>{text}</span>;
  return (
    <span>
      {parts[0]}
      <span style={{ fontFamily: "'DejaVu Sans', sans-serif", fontSize: '15px', margin: '0 1px' }}>↔</span>
      {parts[1]}
    </span>
  );
}

function GLabel({ param }: { param: number }) {
  return (
    <>
      <i style={{ fontSize: '25px' }}>g</i>
      <span
        style={{
          display: 'inline-flex',
          flexDirection: 'column',
          alignItems: 'flex-start',
          fontSize: '17px',
          lineHeight: '15px',
          verticalAlign: '9px',
          marginLeft: '1px',
          letterSpacing: '0.4px',
        }}
      >
        <SupText text={PARAM_SUP[param]} />
        <span>{PARAM_SUB[param]}</span>
      </span>
      <span style={{ wordSpacing: '1px' }}>{' / DAC'}</span>
    </>
  );
}

const labelBase: React.CSSProperties = {
  position: 'absolute',
  width: 300,
  height: 40,
  lineHeight: '40px',
  textAlign: 'center',
  whiteSpace: 'nowrap',
  fontFamily: "'Liberation Serif', 'DejaVu Serif', serif",
  fontSize: '24px',
  letterSpacing: '0.5px',
  color: TEXT_COLOR,
};

export default function App() {
  const specs = useMemo(buildSpecs, []);
  const refs = useRef<(HTMLCanvasElement | null)[]>([]);

  useEffect(() => {
    document.body.style.margin = '0';
    const charts = specs.map((s, i) => new Chart(refs.current[i] as HTMLCanvasElement, s.make()));
    return () => charts.forEach((ch) => ch.destroy());
  }, [specs]);

  return (
    <div style={{ position: 'absolute', left: 0, top: 0, width: PAGE, height: PAGE, background: '#ffffff', overflow: 'hidden' }}>
      {specs.map((s, i) => (
        <canvas
          key={s.key}
          ref={(el) => { refs.current[i] = el; }}
          width={s.width}
          height={s.height}
          style={{ position: 'absolute', left: s.left, top: s.top, width: s.width, height: s.height }}
        />
      ))}
      {COLUMN_PARAM.map((param, c) => (
        <div key={`xl${c}`} style={{ ...labelBase, left: COL0_X + STEP * c + UNIT - 150, top: ROW0_BOTTOM + STEP * c + 61.6 - 27.75 }}>
          <GLabel param={param} />
        </div>
      ))}
      {ROW_PARAM.map((param, r) => (
        <div
          key={`yl${r}`}
          style={{
            ...labelBase,
            left: COL0_X + STEP * r - 52.45 - 150,
            top: ROW0_BOTTOM + STEP * r - UNIT - 20,
            transform: 'rotate(-90deg)',
            transformOrigin: '50% 50%',
          }}
        >
          <GLabel param={param} />
        </div>
      ))}
    </div>
  );
}
